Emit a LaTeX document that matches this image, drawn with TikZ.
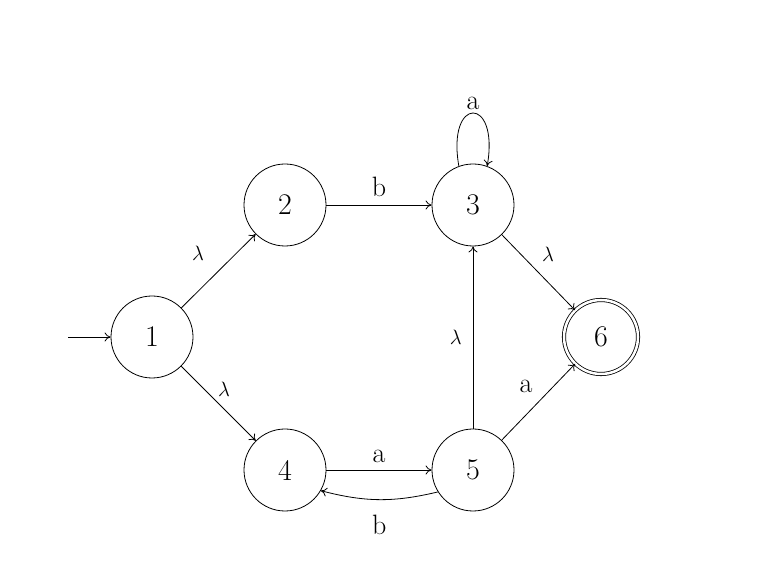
\documentclass[tikz,border=0pt]{standalone}
\usetikzlibrary{arrows.meta}
\begin{document}
\begin{tikzpicture}[x=1pt,y=1pt,
  state/.style={draw,circle,minimum size=82pt,inner sep=0pt,line width=0.8pt,font=\fontsize{30}{34}\selectfont},
  final/.style={state,minimum size=74pt,double,double distance=2.5pt},
  edge/.style={line width=0.8pt,-{To[length=6pt,width=9pt]}},
  lab/.style={font=\fontsize{28}{32}\selectfont,inner sep=3pt},
  llab/.style={font=\fontsize{22}{26}\selectfont,inner sep=3pt}]
\useasboundingbox (0,0) rectangle (783,572);
\node[state] (n1) at (152,235) {1};
\node[state] (n2) at (285,367) {2};
\node[state] (n3) at (473,367) {3};
\node[state] (n4) at (285,102) {4};
\node[state] (n5) at (473,102) {5};
\node[final] (n6) at (601,235) {6};
\coordinate (s) at (68,235);
\draw[edge] (s) -- (n1);
\draw[edge] (n1) -- node[llab,above left=9pt,pos=0.47] {$\lambda$} (n2);
\draw[edge] (n1) -- node[llab,above right,pos=0.45] {$\lambda$} (n4);
\draw[edge] (n2) -- node[lab,above=5pt] {b} (n3);
\draw[edge] (n3.110) to[out=100,in=80,looseness=6.5] node[lab,above] {a} (n3.70);
\draw[edge] (n3) -- node[llab,above right=4pt,pos=0.45] {$\lambda$} (n6);
\draw[edge] (n5) -- node[llab,left=8pt,pos=0.5] {$\lambda$} (n3);
\draw[edge] (n5) -- node[lab,above left=4pt,pos=0.52] {a} (n6);
\draw[edge] (n4) -- node[lab,above=4pt] {a} (n5);
\draw[edge] (n5.-148) to[bend left=14] node[lab,below=12pt] {b} (n4.-30);
\end{tikzpicture}
\end{document}
